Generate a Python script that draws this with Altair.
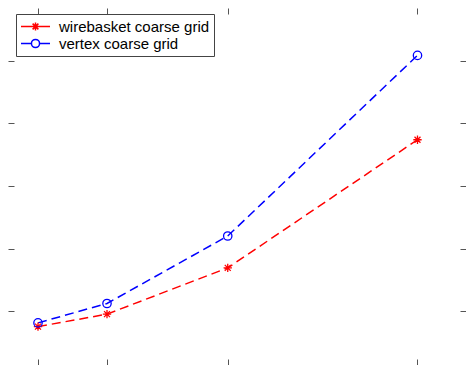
import altair as alt
import pandas as pd

# ---- data ----
series_names = ["wirebasket coarse grid", "vertex coarse grid"]
series_colors = ["#ff0000", "#0000ff"]
x_vals = [2, 4, 7.5, 13]
wire_vals = [7.5, 9.5, 16.9, 37.4]
vertex_vals = [8.1, 11.2, 22.0, 50.9]
x_ticks = [2, 4, 7.5, 13]
y_ticks = [10, 20, 30, 40, 50]

STAR = "M-1,0H1M0,-1V1M-0.71,-0.71L0.71,0.71M-0.71,0.71L0.71,-0.71"
LEG_STAR = "M-1,0H1M-0.28,0H0.28M0,-0.28V0.28M-0.2,-0.2L0.2,0.2M-0.2,0.2L0.2,-0.2"
LEG_CIRC = "M-1,0H-0.28M0.28,0H1M-0.28,0A0.28,0.28 0 1,0 0.28,0A0.28,0.28 0 1,0 -0.28,0"

rows = []
for name, vals in zip(series_names, [wire_vals, vertex_vals]):
    for i, (xv, yv) in enumerate(zip(x_vals, vals)):
        rows.append({"series": name, "x": xv, "y": yv, "order": i})
df = pd.DataFrame(rows)

W, H = 458, 357
xscale = alt.Scale(domain=[1.1304, 14.406], nice=False, zero=False)
yscale = alt.Scale(domain=[1.36, 58.48], nice=False, zero=False)
color_scale = alt.Scale(domain=series_names, range=series_colors)

tick_style = dict(labels=False, domain=False, grid=False, ticks=True, tickSize=6,
                  tickColor="#555555", tickWidth=1, title=None)

def make_legend():
    return alt.Legend(
        title=None, orient="none", legendX=8, legendY=6,
        strokeColor="#444444", fillColor="white", padding=4,
        labelFont="Liberation Sans", labelFontSize=15, labelColor="black", labelOffset=8,
        symbolSize=841, symbolStrokeWidth=1.5, clipHeight=17, rowPadding=0,
        symbolFillColor="transparent",
    )

lines = alt.Chart(df).mark_line(strokeDash=[9, 5], strokeWidth=1.5).encode(
    x=alt.X("x:Q", scale=xscale, axis=alt.Axis(orient="top", offset=-H, values=x_ticks, **tick_style)),
    y=alt.Y("y:Q", scale=yscale, axis=alt.Axis(orient="right", offset=-W, values=y_ticks, **tick_style)),
    color=alt.Color("series:N", scale=color_scale, legend=None),
    order="order:Q",
)

points = alt.Chart(df).mark_point(filled=False, size=70, strokeWidth=1.3, opacity=1).encode(
    x=alt.X("x:Q", scale=xscale, axis=alt.Axis(orient="bottom", offset=-H, values=x_ticks, **tick_style)),
    y=alt.Y("y:Q", scale=yscale, axis=alt.Axis(orient="left", offset=-W, values=y_ticks, **tick_style)),
    color=alt.Color("series:N", scale=color_scale, legend=None),
    shape=alt.Shape("series:N", scale=alt.Scale(domain=series_names, range=[STAR, "circle"]), legend=None),
)

# legend-only layer: no visible marks, its own shape scale with line+marker symbols
legend_layer = alt.Chart(df).transform_filter("false").mark_point(
    filled=False, size=841, strokeWidth=1.5, opacity=1
).encode(
    color=alt.Color("series:N", scale=alt.Scale(domain=series_names, range=series_colors), legend=make_legend()),
    shape=alt.Shape("series:N", scale=alt.Scale(domain=series_names, range=[LEG_STAR, LEG_CIRC]), legend=make_legend()),
)

chart = alt.layer(lines, points, legend_layer).resolve_scale(
    shape="independent", color="independent"
).properties(
    width=W, height=H,
    autosize=alt.AutoSizeParams(type="none"),
    padding=0,
    background="white",
).configure_view(stroke=None)

chart.save("out.html", embed_options={"renderer": "svg", "actions": False})
